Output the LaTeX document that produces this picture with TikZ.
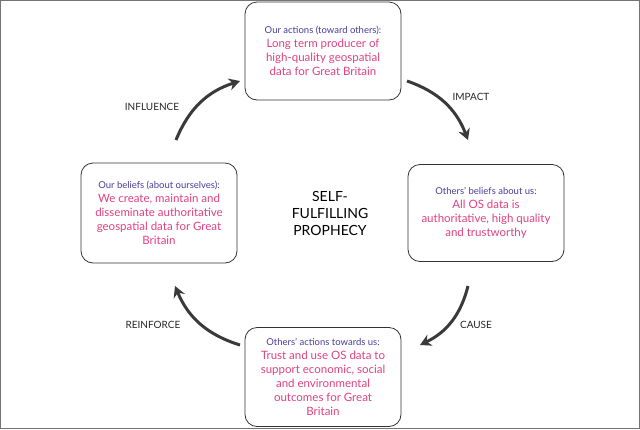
\documentclass[tikz,border=0pt]{standalone}
\usepackage{fontspec}
\setmainfont{Lato}
\usetikzlibrary{arrows.meta}
\definecolor{ttl}{HTML}{4A3C9C}
\definecolor{bdy}{HTML}{E0407F}
\definecolor{arr}{HTML}{3A3A3A}
\begin{document}
\begin{tikzpicture}[x=1pt,y=-1pt,
 box/.style={draw=black!80,line width=0.8pt,rounded corners=12pt,minimum width=156pt,align=center,font=\fontsize{11.5}{14}\selectfont},
 lab/.style={font=\fontsize{10}{12}\selectfont,text=black!85},
 cyc/.style={line width=3pt,draw=arr,-{Stealth[length=11pt,width=12pt]}}]
\draw[black!55,line width=1pt] (0.5,0.5) rectangle (639.5,428.5);
\useasboundingbox (0,0) rectangle (640,429);
\node[box,minimum height=98pt] (t) at (323,51) {{\color{ttl}\fontsize{9.5}{13}\selectfont Our actions (toward others):}\\\color{bdy}Long term producer of\\\color{bdy}high-quality geospatial\\\color{bdy}data for Great Britain};
\node[box,minimum height=97pt] (r) at (486,213) {{\color{ttl}\fontsize{9.5}{13}\selectfont Others' beliefs about us:}\\\color{bdy}All OS data is\\\color{bdy}authoritative, high quality\\\color{bdy}and trustworthy};
\node[box,minimum height=99pt] (b) at (323,377) {{\color{ttl}\fontsize{9.5}{13}\selectfont Others' actions towards us:}\\\color{bdy}Trust and use OS data to\\\color{bdy}support economic, social\\\color{bdy}and environmental\\\color{bdy}outcomes for Great\\\color{bdy}Britain};
\node[box,minimum height=100pt] (l) at (159,213) {{\color{ttl}\fontsize{9.5}{13}\selectfont Our beliefs (about ourselves):}\\\color{bdy}We create, maintain and\\\color{bdy}disseminate authoritative\\\color{bdy}geospatial data for Great\\\color{bdy}Britain};
\node[align=center,font=\fontsize{14}{17}\selectfont] (c) at (330,213) {SELF-\\FULFILLING\\PROPHECY};
\coordinate (a1) at (176,140); \coordinate (a2) at (240,81);
\coordinate (b1) at (407,81); \coordinate (b2) at (468,140);
\coordinate (c1) at (468,286); \coordinate (c2) at (420,345);
\coordinate (d1) at (240,345); \coordinate (d2) at (175,286);
\draw[cyc] (a1) to[bend left=25] (a2);
\draw[cyc] (b1) to[bend left=25] (b2);
\draw[cyc] (c1) to[bend left=25] (c2);
\draw[cyc] (d1) to[bend left=25] (d2);
\node[lab] (li) at (152,107) {INFLUENCE};
\node[lab] (lm) at (471,97) {IMPACT};
\node[lab] (lc) at (476,325) {CAUSE};
\node[lab] (lr) at (153,325) {REINFORCE};
\end{tikzpicture}
\end{document}
